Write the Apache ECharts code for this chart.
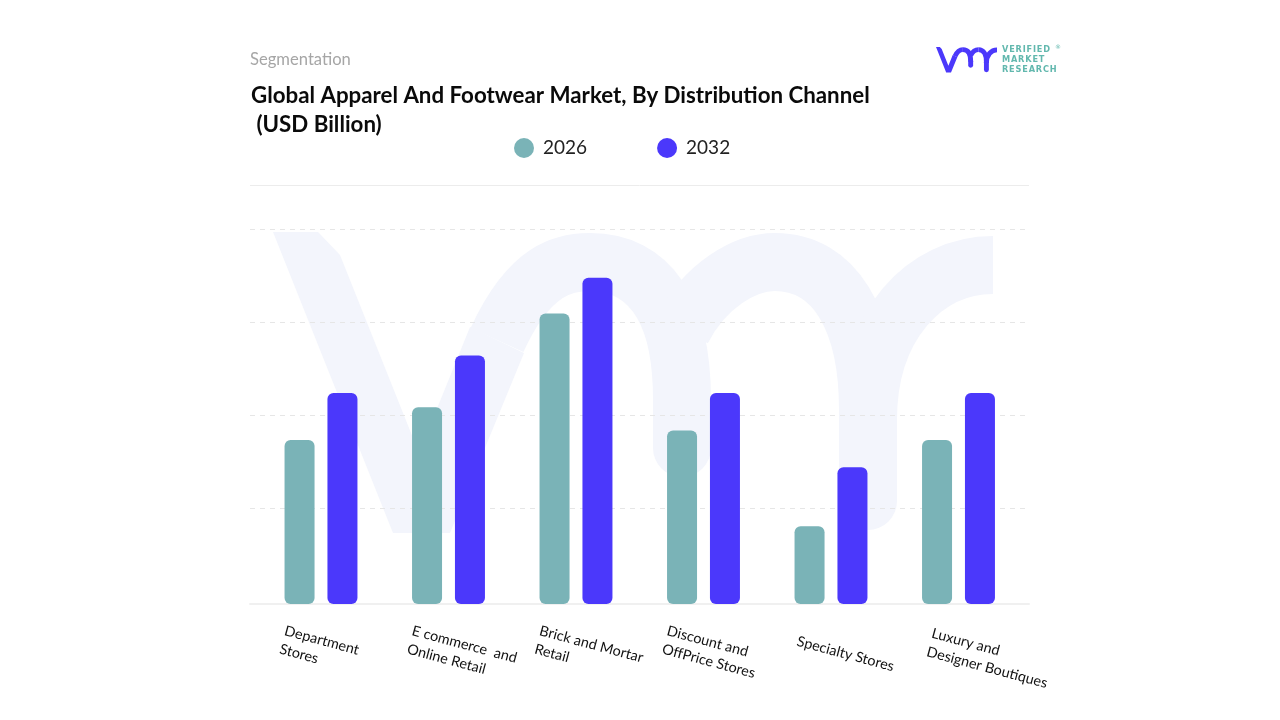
<!DOCTYPE html>
<html><head><meta charset="utf-8">
<style>html,body{margin:0;padding:0;background:#fff}#c{width:1280px;height:720px}</style>
<script src="https://cdn.jsdelivr.net/npm/echarts@6/dist/echarts.min.js"></script>
</head><body><div id="c"></div>
<script>
const categories = ['Department\nStores','E commerce  and\nOnline Retail','Brick and Mortar\nRetail','Discount and\nOffPrice Stores','Specialty Stores','Luxury and\nDesigner Boutiques'];
const labelStyles = ['a','a','a','a','c','b'];
const values2026 = [1.75,2.10,3.10,1.85,0.83,1.75];
const values2032 = [2.25,2.65,3.48,2.25,1.46,2.25];
const seriesNames = ['2026','2032'];
const titleText = 'Global Apparel And Footwear Market, By Distribution Channel\n (USD Billion)';
const segmentText = 'Segmentation';
const logoLines = ['VERIFIED','MARKET','RESEARCH'];
const FONT = 'Lato';
const TEAL = '#7ab3b7', BLUE = '#4b38fb';

const markPolygon = [[273,232],[318,232],[340,255],[419,453],[470,327],[524,353],[450,533],[393,533]];
const markLines = [[682,400,682,448],[868,410,868,501]];
const markCurves = [
  [497,340,530,268,565,262,590,262],
  [590,262,650,262,682,310,682,400],
  [682,330,705,285,745,262,775,262],
  [775,262,835,262,868,320,868,410],
  [868,420,868,325,925,265,993,265]
];
function markGroup(color, width, x, y, s, z){
  const base = {z:z,x:x,y:y,scaleX:s,scaleY:s,silent:true};
  const st = (cap)=>({fill:null,stroke:color,lineWidth:width,lineCap:cap});
  return [
    {...base,type:'polygon',shape:{points:markPolygon},style:{fill:color}},
    ...markLines.map(l=>({...base,type:'line',shape:{x1:l[0],y1:l[1],x2:l[2],y2:l[3]},style:st('round')})),
    ...markCurves.map((c,i)=>({...base,type:'bezierCurve',
      shape:{x1:c[0],y1:c[1],cpx1:c[2],cpy1:c[3],cpx2:c[4],cpy2:c[5],x2:c[6],y2:c[7]},
      style:st('butt')}))
  ];
}

const chart = echarts.init(document.getElementById('c'),null,{renderer:'canvas'});
chart.setOption({
  animation:false,
  backgroundColor:'#fff',
  textStyle:{fontFamily:FONT},
  title:[
    {text:segmentText,left:250,top:51,padding:0,textStyle:{fontSize:16.6,fontWeight:'normal',color:'#a6a6a6',fontFamily:FONT}},
    {text:titleText,left:251,top:81,padding:0,textStyle:{fontSize:22.3,fontWeight:'bold',color:'#0a0a0a',lineHeight:29,fontFamily:FONT}}
  ],
  legend:{left:514,top:138,padding:0,icon:'circle',itemWidth:20,itemHeight:20,itemGap:70,
    textStyle:{fontSize:19,color:'#222',fontFamily:FONT,padding:[3,0,0,4]},data:seriesNames},
  grid:[
    {left:250,width:779,top:185,height:416},
    {left:257.25,width:765,top:185,height:419}
  ],
  xAxis:[
    {type:'category',gridIndex:0,data:categories,offset:3,axisTick:{show:false},axisLabel:{show:false},
      axisLine:{onZero:false,lineStyle:{color:'#f0f0f0',width:2}}},
    {type:'category',gridIndex:1,data:categories,
      axisTick:{show:false},axisLine:{show:false},
      axisLabel:{interval:0,rotate:-15,margin:46,align:'center',verticalAlign:'middle',
        hideOverlap:false,
        formatter:(v,i)=>v.split('\n').map(l=>`{${labelStyles[i]}|${l}}`).join('\n'),
        rich:{a:{width:80,align:'left',fontSize:14.4,lineHeight:19,color:'#111',fontFamily:FONT},
              b:{width:60,align:'left',fontSize:14.4,lineHeight:19,color:'#111',fontFamily:FONT},
              c:{width:70,align:'left',fontSize:14.4,lineHeight:19,color:'#111',fontFamily:FONT}}}}
  ],
  yAxis:[
    {type:'value',gridIndex:0,min:0,max:4.473,interval:1,axisLabel:{show:false},axisLine:{show:false},axisTick:{show:false},
      splitLine:{showMinLine:false,lineStyle:{color:'#e6e6e6',type:[5,5],width:1}}},
    {type:'value',gridIndex:1,min:0,max:4.47,interval:1,axisLabel:{show:false},axisLine:{show:false},axisTick:{show:false},splitLine:{show:false}}
  ],
  series:[
    {name:seriesNames[0],type:'bar',xAxisIndex:1,yAxisIndex:1,data:values2026,barWidth:30,barGap:'43%',
      itemStyle:{color:TEAL,borderRadius:6}},
    {name:seriesNames[1],type:'bar',xAxisIndex:1,yAxisIndex:1,data:values2032,barWidth:30,barGap:'43%',
      itemStyle:{color:BLUE,borderRadius:6}}
  ],
  graphic:[
    ...markGroup('#f3f5fc',58,0,0,1,-10),
    ...markGroup(BLUE,58,912.9,27.4,0.0847,5),
    {type:'line',z:1,silent:true,shape:{x1:250,y1:185.5,x2:1029,y2:185.5},style:{stroke:'#ececec',lineWidth:1}},
    ...logoLines.map((t,i)=>({type:'text',z:5,x:1002,y:46+i*10,silent:true,
      style:{text:t.split('').join('\u200a'),fill:'#62b8ae',font:'600 8.2px "DejaVu Sans"'}})),
    {type:'text',z:5,x:1055,y:44,silent:true,style:{text:'®',fill:'#62b8ae',font:'6px "DejaVu Sans"'}}
  ]
});
</script></body></html>
